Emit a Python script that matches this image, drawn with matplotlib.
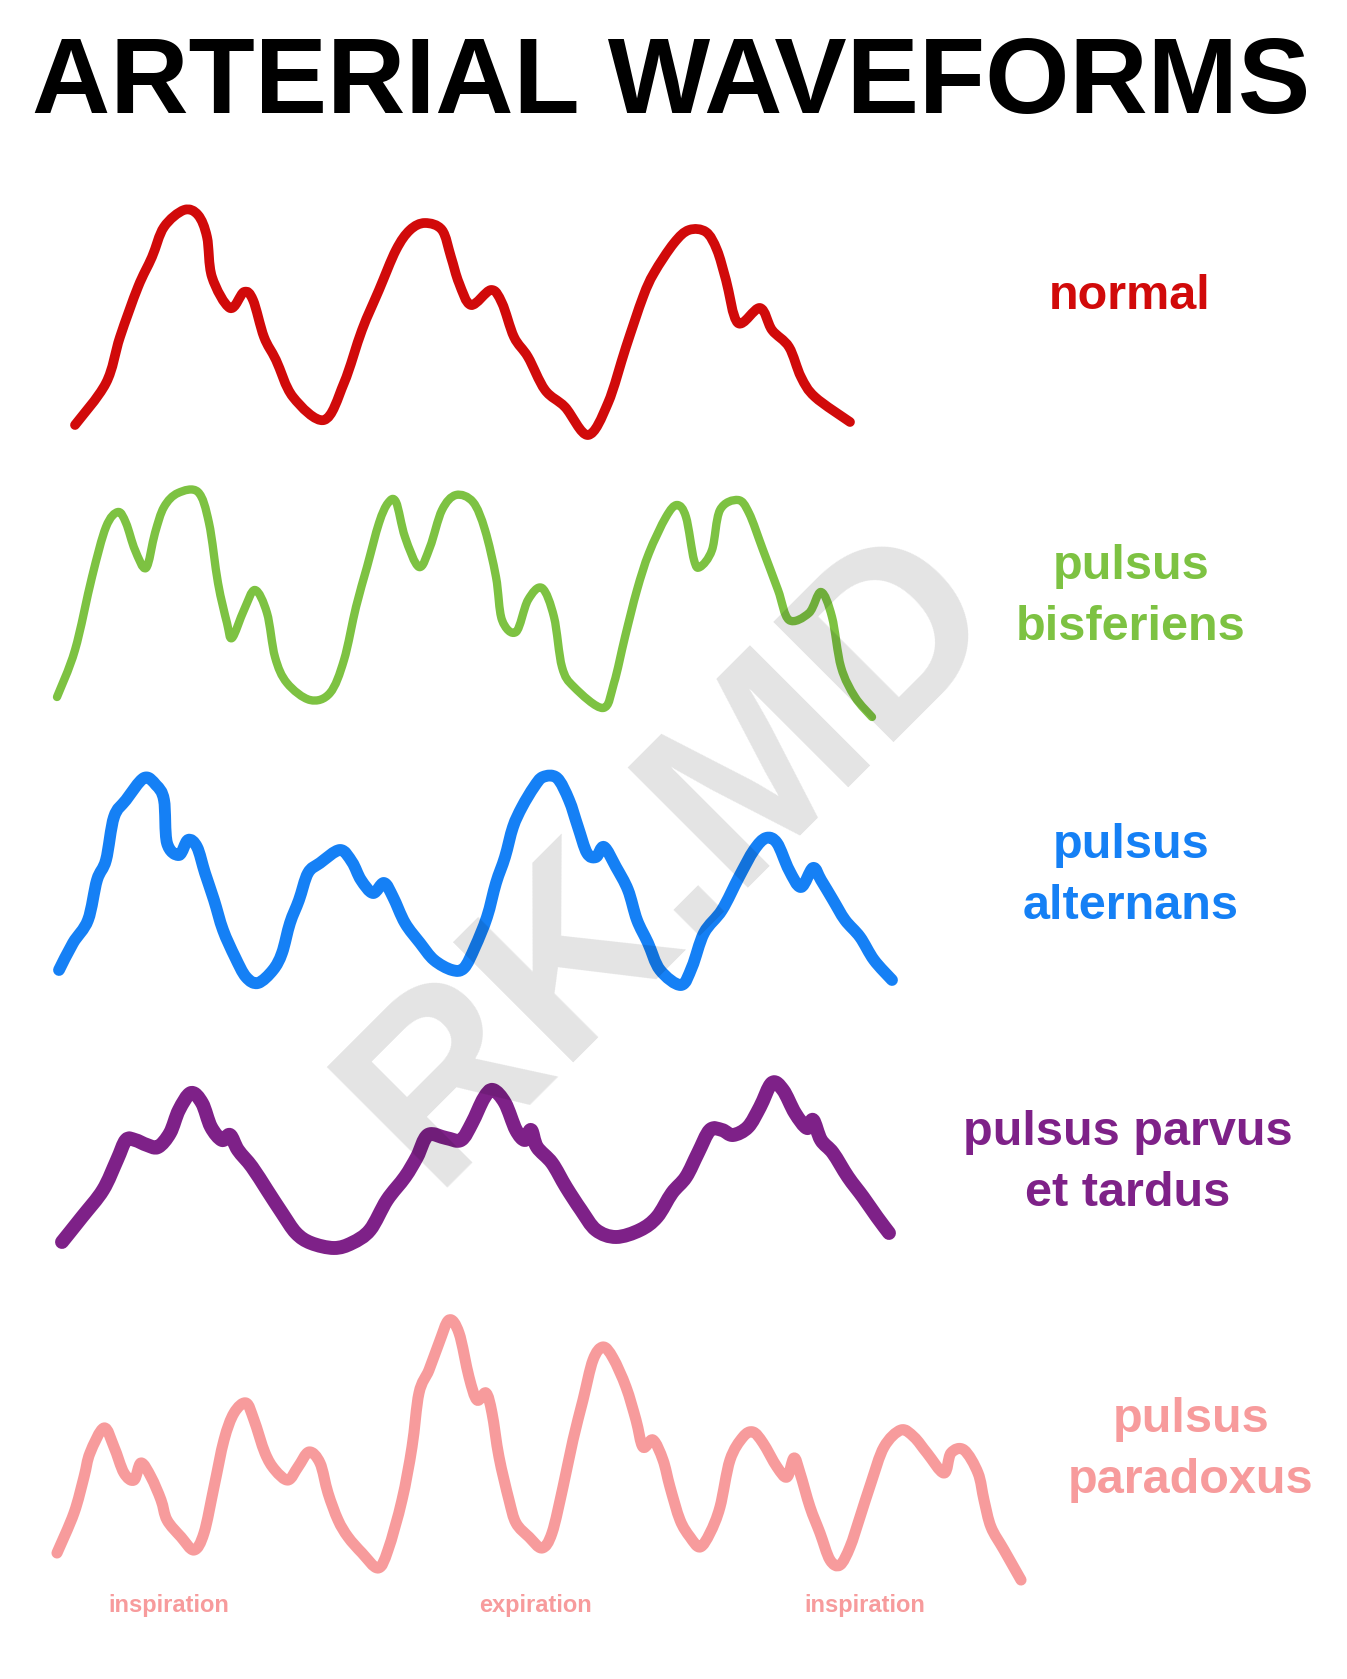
import matplotlib
matplotlib.use("Agg")
import matplotlib.pyplot as plt
from matplotlib.path import Path
from matplotlib.patches import PathPatch

plt.rcParams['font.family'] = ['Liberation Sans', 'DejaVu Sans']

# ---------------- data (x = time, y = level, image units) -------------
normal_x = [75, 106, 120, 138, 152, 164, 184, 198, 207, 212, 230, 244, 253, 264, 276, 293, 324,
            344, 362, 379, 396, 410, 425, 442, 451, 459, 471, 491, 502, 514, 528, 545, 565, 588,
            608, 626, 643, 654, 674, 689, 706, 717, 726, 738, 760, 772, 789, 801, 815, 850]
normal_y = [425, 383, 337, 287, 257, 227, 210, 215, 237, 277, 308, 292, 300, 337, 360, 397, 420,
            383, 330, 290, 250, 230, 223, 230, 257, 283, 305, 290, 303, 337, 357, 390, 407, 435,
            403, 347, 297, 273, 243, 230, 232, 250, 280, 323, 308, 330, 347, 377, 397, 422]

bisf_x = [57, 75, 92, 106, 118, 126, 135, 146, 155, 164, 178, 198, 209, 218, 227, 232, 244, 255,
          267, 275, 287, 310, 330, 344, 356, 367, 379, 388, 396, 405, 419, 430, 442, 456, 473,
          485, 496, 502, 516, 528, 542, 554, 562, 574, 603, 614, 625, 637, 649, 666, 677, 686,
          694, 700, 712, 720, 738, 749, 763, 778, 789, 809, 821, 832, 841, 855, 872]
bisf_y = [697, 650, 577, 527, 512, 523, 550, 568, 533, 507, 493, 492, 523, 583, 623, 638, 610, 590,
          613, 657, 683, 700, 693, 660, 607, 567, 523, 503, 502, 537, 567, 547, 510, 495, 502,
          530, 577, 620, 632, 600, 588, 617, 667, 687, 708, 683, 637, 590, 553, 517, 505, 517,
          560, 567, 550, 510, 500, 513, 550, 590, 620, 613, 592, 617, 667, 697, 717]

alt_x = [59, 73, 88, 97, 106, 114, 126, 144, 156, 164, 167, 179, 188, 197, 205, 214, 223, 235,
         246, 258, 273, 282, 290, 299, 308, 320, 340, 352, 361, 373, 384, 393, 405, 420, 434,
         452, 464, 475, 487, 496, 505, 513, 522, 534, 543, 557, 569, 578, 587, 596, 604, 616,
         628, 637, 648, 660, 681, 692, 704, 722, 739, 754, 766, 777, 789, 801, 813, 821, 833,
         845, 860, 874, 892]
alt_y = [970, 943, 920, 880, 860, 817, 800, 778, 785, 800, 843, 855, 840, 847, 873, 900, 930, 957,
         977, 983, 970, 953, 923, 900, 873, 863, 850, 862, 880, 893, 883, 897, 923, 943, 960,
         970, 968, 947, 917, 883, 857, 827, 807, 787, 777, 778, 800, 827, 853, 857, 847, 867,
         890, 920, 943, 970, 985, 967, 933, 910, 877, 850, 838, 843, 870, 887, 868, 880, 900,
         920, 937, 960, 980]

parvus_x = [62, 82, 103, 117, 126, 135, 147, 158, 170, 179, 191, 202, 211, 222, 230, 238, 252,
            267, 282, 296, 311, 334, 352, 370, 387, 405, 417, 428, 446, 461, 472, 484, 493, 505,
            516, 525, 531, 537, 552, 566, 581, 596, 616, 640, 657, 672, 686, 698, 710, 722, 733,
            748, 760, 772, 783, 795, 807, 813, 821, 833, 848, 863, 877, 889]
parvus_y = [1242, 1217, 1190, 1160, 1140, 1140, 1145, 1147, 1133, 1110, 1093, 1103, 1127, 1140,
            1135, 1150, 1167, 1190, 1213, 1233, 1243, 1248, 1243, 1230, 1200, 1177, 1157, 1135,
            1138, 1140, 1123, 1098, 1090, 1103, 1130, 1140, 1130, 1147, 1163, 1187, 1210, 1230,
            1237, 1230, 1217, 1193, 1177, 1153, 1130, 1130, 1135, 1127, 1107, 1083, 1090, 1113,
            1128, 1120, 1140, 1153, 1177, 1197, 1217, 1233]

parad_x = [57, 74, 84, 90, 104, 114, 124, 134, 141, 151, 161, 167, 181, 194, 204, 214, 224, 234,
           246, 254, 265, 275, 288, 298, 309, 320, 328, 338, 348, 362, 378, 388, 402, 412, 419,
           429, 439, 449, 459, 469, 477, 486, 492, 499, 509, 516, 529, 542, 552, 563, 573, 583,
           593, 603, 613, 626, 636, 643, 653, 663, 670, 680, 690, 700, 710, 720, 730, 743, 753,
           763, 777, 787, 794, 800, 810, 820, 830, 840, 850, 860, 871, 884, 901, 914, 927, 944,
           951, 964, 978, 984, 991, 1004, 1021]
parad_y = [1553, 1513, 1477, 1453, 1428, 1447, 1473, 1480, 1463, 1477, 1500, 1520, 1537, 1550,
           1533, 1487, 1440, 1413, 1403, 1420, 1453, 1470, 1480, 1467, 1452, 1463, 1493, 1520,
           1537, 1553, 1568, 1550, 1500, 1447, 1393, 1370, 1343, 1320, 1333, 1377, 1400, 1393,
           1413, 1457, 1500, 1523, 1537, 1548, 1533, 1487, 1440, 1400, 1360, 1347, 1358, 1387,
           1420, 1447, 1440, 1460, 1487, 1520, 1537, 1547, 1533, 1507, 1460, 1437, 1432, 1443,
           1467, 1477, 1458, 1473, 1507, 1533, 1560, 1565, 1547, 1517, 1483, 1447, 1430, 1437,
           1453, 1473, 1453, 1450, 1473, 1500, 1527, 1550, 1580]

series_names = ["normal", "pulsus\nbisferiens", "pulsus\nalternans",
                "pulsus parvus\net tardus", "pulsus\nparadoxus"]
phase_labels = ["inspiration", "expiration", "inspiration"]
title_text = "ARTERIAL WAVEFORMS"
watermark_text = "RK.MD"

# ---------------- styling ----------------
W, H = 1347, 1679
fig = plt.figure(figsize=(W / 100, H / 100), dpi=100)
ax = fig.add_axes([0, 0, 1, 1])
ax.set_xlim(0, W)
ax.set_ylim(H, 0)
ax.axis("off")

colors = ["#D10A0A", "#7DC242", "#1580F5", "#7E2188", "#F79B9C"]
widths = [7.0, 6.0, 8.5, 10.0, 8.0]
xs = [normal_x, bisf_x, alt_x, parvus_x, parad_x]
ys = [normal_y, bisf_y, alt_y, parvus_y, parad_y]


def smooth_path(x, y, tension=6.0):
    """Catmull-Rom curve through the read points, as cubic Bezier segments."""
    pts = list(zip(x, y))
    verts = [pts[0]]
    codes = [Path.MOVETO]
    n = len(pts)
    for i in range(n - 1):
        p0 = pts[i - 1] if i > 0 else pts[i]
        p1 = pts[i]
        p2 = pts[i + 1]
        p3 = pts[i + 2] if i + 2 < n else pts[i + 1]
        c1 = (p1[0] + (p2[0] - p0[0]) / tension, p1[1] + (p2[1] - p0[1]) / tension)
        c2 = (p2[0] - (p3[0] - p1[0]) / tension, p2[1] - (p3[1] - p1[1]) / tension)
        verts += [c1, c2, p2]
        codes += [Path.CURVE4, Path.CURVE4, Path.CURVE4]
    return Path(verts, codes)


for x, y, c, lw in zip(xs, ys, colors, widths):
    patch = PathPatch(smooth_path(x, y), facecolor="none", edgecolor=c, lw=lw,
                      joinstyle="round", capstyle="round", zorder=2)
    ax.add_patch(patch)

# labels on the right
label_pos = [(1130, 309), (1131, 640), (1131, 919), (1128, 1206), (1191, 1493)]
for name, (lx, ly), c in zip(series_names, label_pos, colors):
    ax.text(lx, ly, name, color=c, fontsize=35, fontweight="bold", ha="center",
            va="baseline", linespacing=1.45, zorder=3)

# breathing phase labels
phase_pos = [169, 536, 865]
for t, px in zip(phase_labels, phase_pos):
    ax.text(px, 1612, t, color="#F79B9C", fontsize=17, fontweight="bold",
            ha="center", va="baseline", zorder=3)

# title
ax.text(671, 113, title_text, color="black", fontsize=78, fontweight="bold",
        ha="center", va="baseline", zorder=3)

# watermark
ax.text(718, 902, watermark_text, color="black", alpha=0.11, fontsize=178, fontweight="bold",
        rotation=45, rotation_mode="anchor", ha="center", va="baseline", zorder=5)

fig.savefig("out.png", dpi=100, facecolor="white")
